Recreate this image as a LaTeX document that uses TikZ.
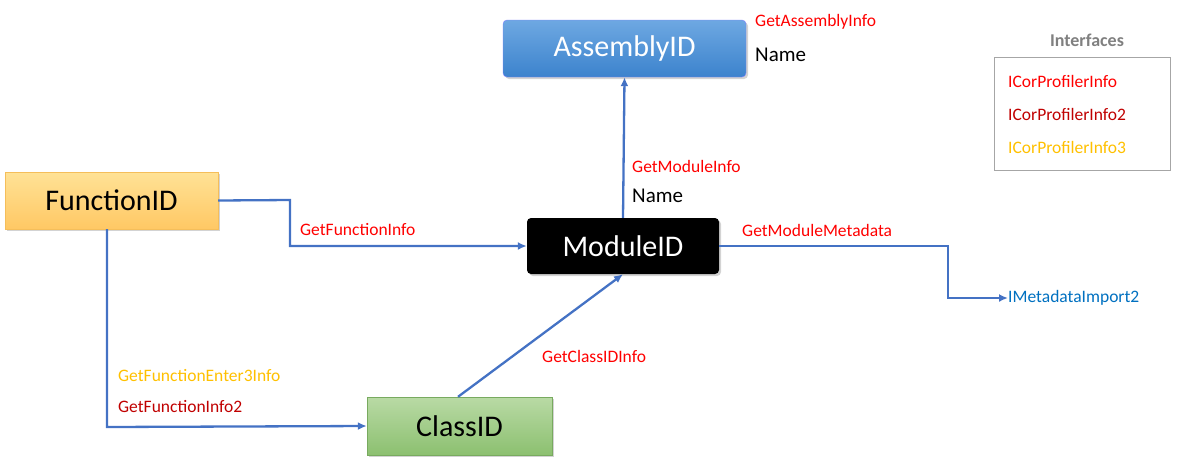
\documentclass[tikz,border=0pt]{standalone}
\usepackage{fontspec}
\setmainfont{Carlito}
\usetikzlibrary{shadows}
\definecolor{lnk}{HTML}{4472C4}
\definecolor{rd}{HTML}{FF0000}
\definecolor{drd}{HTML}{C00000}
\definecolor{gold}{HTML}{FFC000}
\definecolor{mblue}{HTML}{0070C0}
\begin{document}
\begin{tikzpicture}[x=1pt,y=-1pt,
 box/.style={rounded corners=4pt,font=\fontsize{30}{34}\selectfont,inner sep=0pt,drop shadow={opacity=0.35,shadow xshift=2pt,shadow yshift=-2pt}},
 lab/.style={font=\fontsize{17.5}{20}\selectfont,anchor=west,inner sep=0pt},
 big/.style={font=\fontsize{21}{24}\selectfont,anchor=west,inner sep=0pt},
 arr/.style={draw=lnk,line width=2.3pt,-{Latex[length=9pt,width=8pt]}}]
\useasboundingbox (0,0) rectangle (1198,464);
\usetikzlibrary{arrows.meta}
\node[box,minimum width=243pt,minimum height=57pt,top color=blue!40!cyan!30!white!85!blue,bottom color=blue!60!cyan!55!black!80!white,draw=blue!50!white,text=white,top color={rgb,255:red,110;green,168;blue,226},bottom color={rgb,255:red,60;green,131;blue,205}] (asm) at (624.5,48.5) {AssemblyID};
\node[box,minimum width=213pt,minimum height=57pt,top color={rgb,255:red,255;green,226;blue,150},bottom color={rgb,255:red,255;green,200;blue,100},draw={rgb,255:red,245;green,190;blue,90},rounded corners=0pt] (fun) at (111.5,200.5) {FunctionID};
\node[box,minimum width=192pt,minimum height=56pt,fill=black,text=white] (mod) at (623,246) {ModuleID};
\node[box,minimum width=185pt,minimum height=58pt,top color={rgb,255:red,185;green,218;blue,165},bottom color={rgb,255:red,140;green,192;blue,112},draw={rgb,255:red,120;green,170;blue,95},rounded corners=0pt] (cls) at (459.5,426) {ClassID};
\node[draw=gray!70,line width=1pt,minimum width=176pt,minimum height=113pt] (ifc) at (1082,113.5) {};
\node[font=\fontsize{18}{20}\selectfont\bfseries,text=gray] (ifh) at (1087,40) {Interfaces};
\node[lab,text=rd] (i1) at (1008,81) {ICorProfilerInfo};
\node[lab,text=drd] (i2) at (1008,114) {ICorProfilerInfo2};
\node[lab,text=gold] (i3) at (1008,147) {ICorProfilerInfo3};
\node[lab,text=rd] (la) at (755,22) {GetAssemblyInfo};
\node[big] (na) at (755,55) {Name};
\coordinate (c1) at (290,200);
\coordinate (c2) at (290,246);
\draw[arr] (fun.east) -- (c1) -- (c2) -- (mod.west);
\node[lab,text=rd] (lf) at (300,230) {GetFunctionInfo};
\draw[arr] (mod.north) -- (asm.south);
\node[lab,text=rd] (lm) at (632,166) {GetModuleInfo};
\node[big] (nm) at (632,196) {Name};
\coordinate (m1) at (948,246);
\coordinate (m2) at (948,298);
\node[lab,text=mblue] (imd) at (1008,298) {IMetadataImport2};
\draw[arr] (mod.east) -- (m1) -- (m2) -- (imd.west);
\node[lab,text=rd] (lmm) at (742,230) {GetModuleMetadata};
\coordinate (f1) at (107,427);
\draw[arr] (fun.south -| f1) -- (f1) -- (cls.west);
\node[lab,text=gold] (le3) at (118,376) {GetFunctionEnter3Info};
\node[lab,text=drd] (lf2) at (118,407) {GetFunctionInfo2};
\draw[arr] (cls.north -| 458,0) -- (mod.south);
\node[lab,text=rd] (lc) at (542,356) {GetClassIDInfo};
\end{tikzpicture}
\end{document}
